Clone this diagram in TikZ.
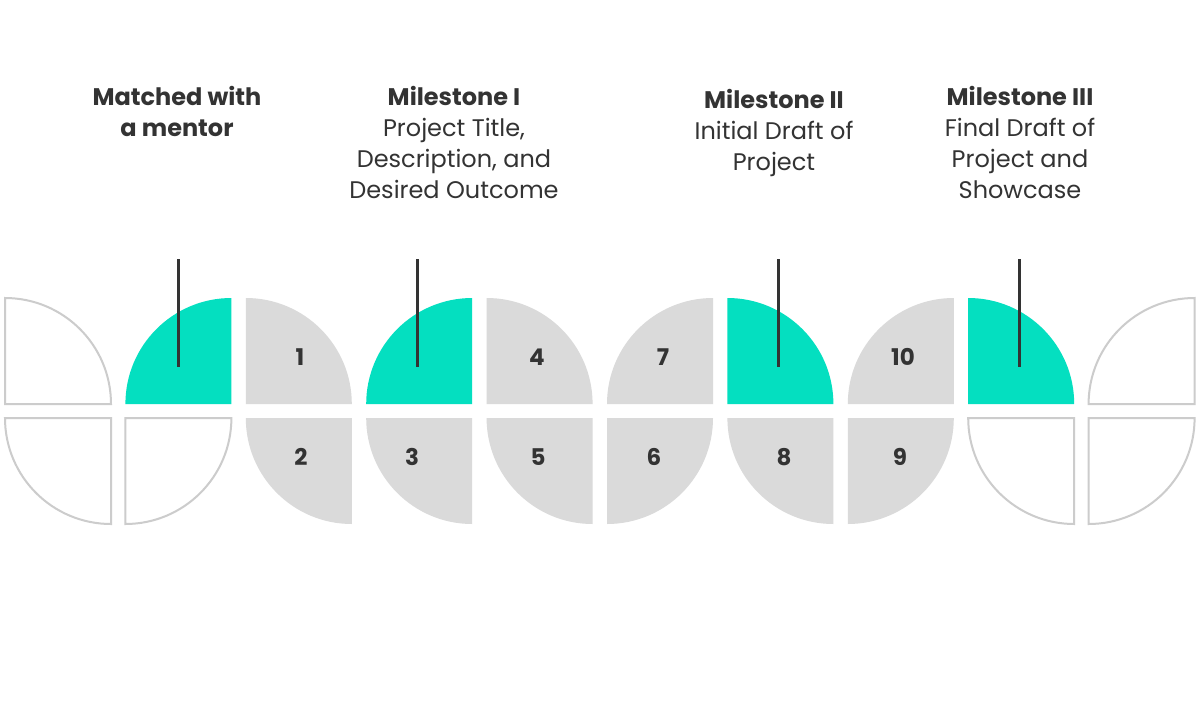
\documentclass[tikz,border=0pt]{standalone}
\usepackage{fontspec}
\setmainfont{Poppins}
\usetikzlibrary{positioning}
\definecolor{myteal}{RGB}{4, 223, 192}
\definecolor{mygray1}{RGB}{218, 218, 218}
\definecolor{mygray2}{RGB}{204, 204, 204}
\definecolor{mydark}{RGB}{51, 51, 51}

\begin{document}
\begin{tikzpicture}[
    x = 1pt, y = 1pt,
    q0/.style = {draw = mygray2, line width = 2pt, fill = white},
    q1/.style = {fill = myteal},
    q2/.style = {fill = mygray1},
    num/.style = {font = \fontsize{23}{28}\selectfont\bfseries, text = mydark, inner sep = 0},
    lbl/.style = {font = \fontsize{24}{31}\selectfont, text = mydark, align = center, anchor = base, inner sep = 0},
    d0/.style = {line width = 3pt, draw = mydark},
]
\useasboundingbox[fill = white] (0,0) rectangle (1200,-723);

% top row
\draw[q0]  (5,-404) -- ++(0:106) arc[start angle=0, end angle=90, radius=106] -- cycle;
\fill[q1]  (231.4,-404) -- ++(90:106) arc[start angle=90, end angle=180, radius=106] -- cycle;
\fill[q2]  (245.8,-404) -- ++(0:106) arc[start angle=0, end angle=90, radius=106] -- cycle;
\fill[q1]  (472.2,-404) -- ++(90:106) arc[start angle=90, end angle=180, radius=106] -- cycle;
\fill[q2]  (486.6,-404) -- ++(0:106) arc[start angle=0, end angle=90, radius=106] -- cycle;
\fill[q2]  (713,-404) -- ++(90:106) arc[start angle=90, end angle=180, radius=106] -- cycle;
\fill[q1]  (727.4,-404) -- ++(0:106) arc[start angle=0, end angle=90, radius=106] -- cycle;
\fill[q2]  (953.8,-404) -- ++(90:106) arc[start angle=90, end angle=180, radius=106] -- cycle;
\fill[q1]  (968.2,-404) -- ++(0:106) arc[start angle=0, end angle=90, radius=106] -- cycle;
\draw[q0]  (1194.6,-404) -- ++(90:106) arc[start angle=90, end angle=180, radius=106] -- cycle;

% bottom row
\draw[q0]  (111,-418) -- ++(180:106) arc[start angle=180, end angle=270, radius=106] -- cycle;
\draw[q0]  (125.4,-418) -- ++(270:106) arc[start angle=270, end angle=360, radius=106] -- cycle;
\fill[q2]  (351.8,-418) -- ++(180:106) arc[start angle=180, end angle=270, radius=106] -- cycle;
\fill[q2]  (472.2,-418) -- ++(180:106) arc[start angle=180, end angle=270, radius=106] -- cycle;
\fill[q2]  (592.6,-418) -- ++(180:106) arc[start angle=180, end angle=270, radius=106] -- cycle;
\fill[q2]  (607,-418) -- ++(270:106) arc[start angle=270, end angle=360, radius=106] -- cycle;
\fill[q2]  (833.4,-418) -- ++(180:106) arc[start angle=180, end angle=270, radius=106] -- cycle;
\fill[q2]  (847.8,-418) -- ++(270:106) arc[start angle=270, end angle=360, radius=106] -- cycle;
\draw[q0]  (1074.2,-418) -- ++(180:106) arc[start angle=180, end angle=270, radius=106] -- cycle;
\draw[q0]  (1088.6,-418) -- ++(270:106) arc[start angle=270, end angle=360, radius=106] -- cycle;

% week numbers
\node[num] (n1) at (300,-357) {1};
\node[num] (n2) at (301,-457) {2};
\node[num] (n3) at (412,-457) {3};
\node[num] (n4) at (537,-357) {4};
\node[num] (n5) at (538,-457) {5};
\node[num] (n6) at (654,-457) {6};
\node[num] (n7) at (663,-357) {7};
\node[num] (n8) at (784,-457) {8};
\node[num] (n9) at (900,-457) {9};
\node[num] (n10) at (903,-357) {10};

% markers
\coordinate (m0a) at (178,-259);
\coordinate (m0b) at (178,-367);
\coordinate (m1a) at (417,-259);
\coordinate (m1b) at (417,-367);
\coordinate (m2a) at (778,-259);
\coordinate (m2b) at (778,-367);
\coordinate (m3a) at (1019,-259);
\coordinate (m3b) at (1019,-367);
\draw[d0] (m0a) -- (m0b);
\draw[d0] (m1a) -- (m1b);
\draw[d0] (m2a) -- (m2b);
\draw[d0] (m3a) -- (m3b);

% labels (base = last line)
\node[lbl] (lab0) at (177,-136) {\bfseries Matched with\\\bfseries a mentor};
\node[lbl] (lab1) at (454,-198) {\bfseries Milestone I\\Project Title,\\Description, and\\Desired Outcome};
\node[lbl] (lab2) at (774,-170) {\bfseries Milestone II\\Initial Draft of\\Project};
\node[lbl] (lab3) at (1020,-198) {\bfseries Milestone III\\Final Draft of\\Project and\\Showcase};
\end{tikzpicture}
\end{document}
